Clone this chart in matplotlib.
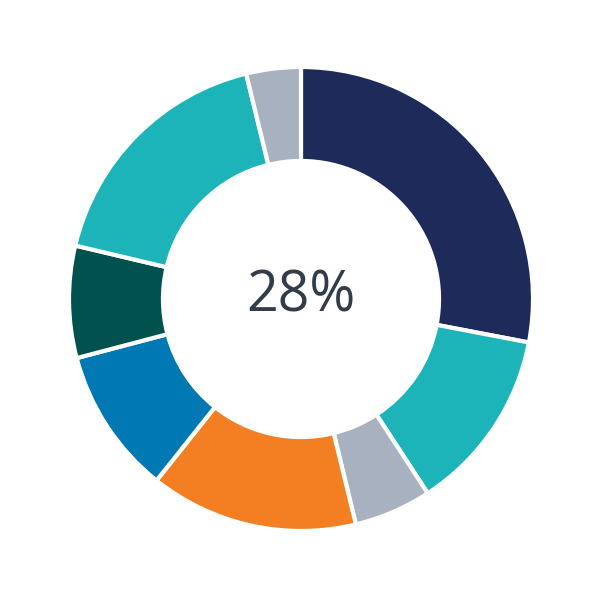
import matplotlib
matplotlib.use("Agg")
import matplotlib.pyplot as plt

labels = ["A", "B", "C", "D", "E", "F", "G", "H"]
values = [28.0, 12.8, 5.4, 14.5, 10.2, 7.8, 17.5, 3.8]
colors = ["#1d2a5a", "#1cb4b8", "#a8b1c0", "#f37f22", "#0078b4", "#01524f", "#1cb4b8", "#a8b1c0"]
center_label = "28%"

fig = plt.figure(figsize=(6, 6), dpi=100)
ax = fig.add_axes([0, 0, 1, 1])
R = 232.0
ax.pie(values, colors=colors, startangle=90, counterclock=False, radius=1.0,
       wedgeprops=dict(width=0.405, edgecolor="white", linewidth=3))
ax.set_xlim(-301 / R, 299 / R)
ax.set_ylim(-301 / R, 299 / R)
ax.set_aspect("equal")
ax.axis("off")
ax.text(0, 0.01, center_label, ha="center", va="center", fontsize=40,
        family=["Open Sans", "DejaVu Sans"], color="#333d48")
fig.savefig("out.png", dpi=100)
